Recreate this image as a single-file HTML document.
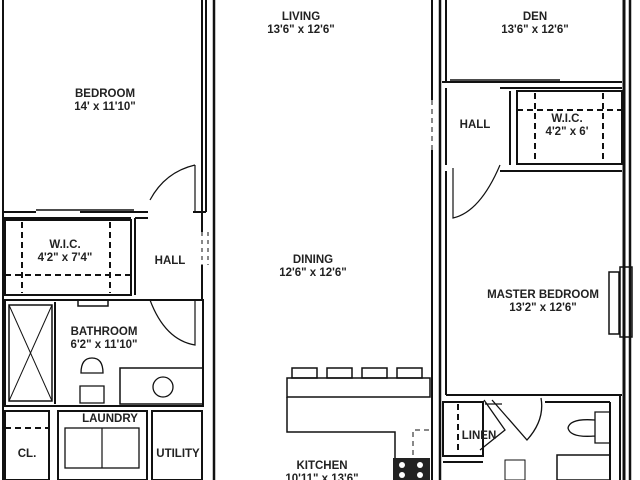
<!DOCTYPE html>
<html><head><style>
html,body{margin:0;padding:0;background:#fff;}
svg{display:block;}
text{font-family:"Liberation Sans",Arial,sans-serif;font-weight:bold;font-size:11.5px;fill:#222;text-anchor:middle;}
</style></head><body>
<svg width="640" height="480" viewBox="0 0 640 480" xmlns="http://www.w3.org/2000/svg">
<rect width="640" height="480" fill="#fff"/>
<g fill="none" stroke="#111" stroke-width="2">
<line x1="3" y1="0" x2="3" y2="480"/>
<line x1="202" y1="0" x2="202" y2="212"/>
<line x1="206" y1="0" x2="206" y2="212"/>
<line x1="214" y1="0" x2="214" y2="480" stroke-width="2.5"/>
<line x1="3" y1="212" x2="36" y2="212"/>
<line x1="3" y1="218" x2="131" y2="218"/>
<line x1="80" y1="212" x2="148" y2="212"/>
<line x1="36" y1="210" x2="134" y2="210" stroke-width="1.5"/>
<line x1="193" y1="212" x2="206" y2="212"/>
<path d="M195 165 L195 212 M195 165 Q165 172 150 200" stroke-width="1.2"/>
<rect x="5" y="220" width="126" height="75"/>
<line x1="5" y1="275" x2="131" y2="275" stroke-dasharray="6,4"/>
<line x1="22" y1="222" x2="22" y2="293" stroke-dasharray="6,4"/>
<line x1="110" y1="222" x2="110" y2="293" stroke-dasharray="6,4"/>
<line x1="135" y1="218" x2="135" y2="295"/>
<line x1="135" y1="218" x2="148" y2="218"/>
<path d="M195 300 L195 345 Q165 340 150 300" stroke-width="1.2"/>
<line x1="202" y1="212" x2="202" y2="232"/>
<line x1="202" y1="265" x2="202" y2="300"/>
<line x1="202" y1="232" x2="202" y2="265" stroke-dasharray="4,4" stroke-width="1"/>
<line x1="208" y1="232" x2="208" y2="265" stroke-dasharray="4,4" stroke-width="1"/>
<rect x="5" y="300" width="198" height="106"/>
<line x1="55" y1="302" x2="55" y2="404"/>
<rect x="9" y="305" width="43" height="96" stroke-width="1.5"/>
<line x1="9" y1="305" x2="52" y2="401" stroke-width="1"/>
<line x1="52" y1="305" x2="9" y2="401" stroke-width="1"/>
<rect x="78" y="300" width="30" height="6" stroke-width="1.5"/>
<rect x="120" y="368" width="83" height="36" stroke-width="1.5"/>
<circle cx="163" cy="387" r="10" stroke-width="1.3"/>
<path d="M81 373 Q81 358 92 358 Q103 358 103 373 Z M80 386 L80 403 L104 403 L104 386 Z" stroke-width="1.3"/>
<rect x="5" y="411" width="44" height="69"/>
<line x1="5" y1="428" x2="49" y2="428" stroke-dasharray="6,4"/>
<rect x="58" y="411" width="89" height="69"/>
<rect x="65" y="428" width="74" height="40" stroke-width="1.3"/>
<line x1="102" y1="428" x2="102" y2="468" stroke-width="1.2"/>
<rect x="152" y="411" width="50" height="69"/>
<rect x="287" y="378" width="143" height="19" stroke-width="1.5"/>
<path d="M287 397 L287 432 L395 432 L395 480" stroke-width="1.5"/>
<rect x="292" y="368" width="25" height="10" stroke-width="1.5"/>
<rect x="327" y="368" width="25" height="10" stroke-width="1.5"/>
<rect x="362" y="368" width="25" height="10" stroke-width="1.5"/>
<rect x="397" y="368" width="25" height="10" stroke-width="1.5"/>
<path d="M413 455 L413 430 L430 430" stroke-width="1" stroke-dasharray="5,4"/>
<line x1="432" y1="0" x2="432" y2="100"/>
<line x1="432" y1="150" x2="432" y2="480"/>
<line x1="440" y1="0" x2="440" y2="480" stroke-width="2.5"/>
<line x1="432" y1="100" x2="432" y2="150" stroke-dasharray="5,4" stroke-width="1"/>
<line x1="624" y1="0" x2="624" y2="480" stroke-width="3"/>
<line x1="630" y1="0" x2="630" y2="480" stroke-width="2.5"/>
<line x1="442" y1="82" x2="622" y2="82"/>
<line x1="446" y1="0" x2="446" y2="82"/>
<line x1="450" y1="80" x2="560" y2="80" stroke-width="1.5"/>
<line x1="500" y1="88" x2="622" y2="88"/>
<line x1="446" y1="88" x2="446" y2="165"/>
<path d="M453 168 L453 218 Q480 212 500 165" stroke-width="1.2"/>
<rect x="517" y="91" width="105" height="73"/>
<line x1="517" y1="110" x2="622" y2="110" stroke-dasharray="6,4"/>
<line x1="535" y1="93" x2="535" y2="162" stroke-dasharray="6,4"/>
<line x1="603" y1="93" x2="603" y2="162" stroke-dasharray="6,4"/>
<line x1="500" y1="171" x2="622" y2="171"/>
<line x1="510" y1="91" x2="510" y2="165"/>
<line x1="446" y1="171" x2="446" y2="395"/>
<line x1="446" y1="395" x2="622" y2="395"/>
<line x1="620" y1="395" x2="620" y2="480"/>
<rect x="609" y="272" width="10" height="62" stroke-width="1.5"/>
<rect x="620" y="267" width="12" height="70" stroke-width="1.5"/>
<rect x="443" y="402" width="40" height="54"/>
<line x1="458" y1="404" x2="458" y2="454" stroke-dasharray="6,4"/>
<line x1="443" y1="462" x2="483" y2="462"/>
<path d="M485 404 L502 404 M484 400 L505 430 L480 450" stroke-width="1.3"/>
<path d="M492 400 L527 440 Q545 420 541 398" stroke-width="1.3"/>
<line x1="545" y1="402" x2="610" y2="402"/>
<line x1="610" y1="402" x2="610" y2="480"/>
<path d="M595 412 L610 412 L610 443 L595 443 Z M595 420 Q570 418 568 428 Q570 438 595 436 Z" stroke-width="1.3"/>
<rect x="557" y="455" width="53" height="25" stroke-width="1.5"/>
<rect x="505" y="460" width="20" height="20" stroke-width="1"/>
</g>
<rect x="393" y="458" width="37" height="22" fill="#222"/>
<g fill="#fff"><circle cx="402" cy="465" r="3"/><circle cx="420" cy="465" r="3"/><circle cx="402" cy="475" r="3"/><circle cx="420" cy="475" r="3"/></g>
<text x="301" y="20">LIVING</text>
<text x="301" y="33">13'6" x 12'6"</text>
<text x="535" y="20">DEN</text>
<text x="535" y="33">13'6" x 12'6"</text>
<text x="105" y="97">BEDROOM</text>
<text x="105" y="110">14' x 11'10"</text>
<text x="65" y="248">W.I.C.</text>
<text x="65" y="261">4'2" x 7'4"</text>
<text x="170" y="264">HALL</text>
<text x="313" y="263">DINING</text>
<text x="313" y="276">12'6" x 12'6"</text>
<text x="104" y="335">BATHROOM</text>
<text x="104" y="348">6'2" x 11'10"</text>
<text x="110" y="422">LAUNDRY</text>
<text x="27" y="457">CL.</text>
<text x="178" y="457">UTILITY</text>
<text x="322" y="469">KITCHEN</text>
<text x="322" y="482">10'11" x 13'6"</text>
<text x="543" y="298">MASTER BEDROOM</text>
<text x="543" y="311">13'2" x 12'6"</text>
<text x="475" y="128">HALL</text>
<text x="567" y="122">W.I.C.</text>
<text x="567" y="135">4'2" x 6'</text>
<text x="479" y="439">LINEN</text>
</svg>
</body></html>
